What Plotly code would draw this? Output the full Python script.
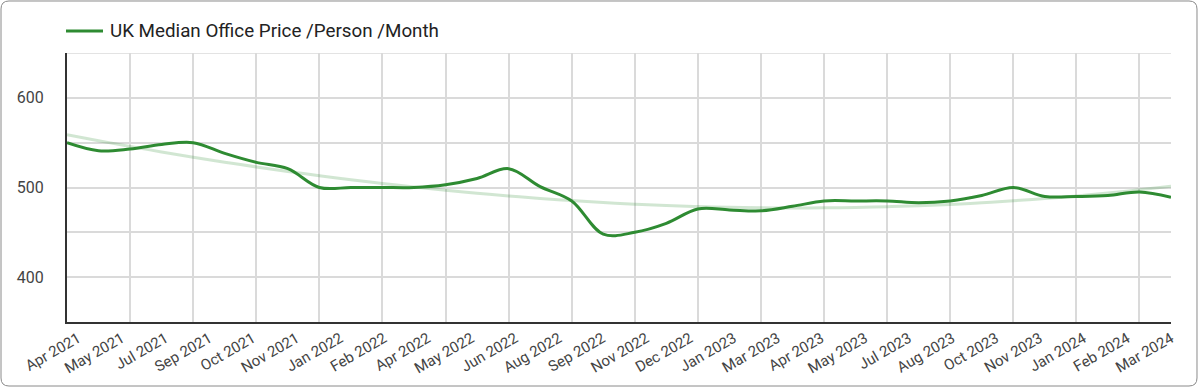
import numpy as np
import plotly.graph_objects as go

# ---- data ----
series_name = "UK Median Office Price /Person /Month"
month_index = list(range(36))  # Apr 2021 .. Mar 2024, monthly
price = [550, 541, 543, 548, 550, 538, 528, 521, 500, 500, 500, 500,
         503, 510, 521, 501, 485, 448, 450, 460, 476, 475, 474, 479,
         485, 485, 485, 483, 485, 491, 500, 490, 490, 491, 495, 489]
tick_labels = ["Apr 2021", "May 2021", "Jul 2021", "Sep 2021", "Oct 2021", "Nov 2021",
               "Jan 2022", "Feb 2022", "Apr 2022", "May 2022", "Jun 2022", "Aug 2022",
               "Sep 2022", "Nov 2022", "Dec 2022", "Jan 2023", "Mar 2023", "Apr 2023",
               "May 2023", "Jul 2023", "Aug 2023", "Oct 2023", "Nov 2023", "Jan 2024",
               "Feb 2024", "Mar 2024"]
y_labels = [400, 500, 600]
y_range = [350, 650]

# ---- layout constants (pixels) ----
W, H = 1199, 388
L, R, T, B = 67, 28, 53, 66
pw, ph = W - L - R, H - T - B
GRID = "#dadada"

x = np.array(month_index, dtype=float)
y = np.array(price, dtype=float)
coef = np.polyfit(x, y, 3)
trend = np.polyval(coef, x)

tickvals = list(np.linspace(0.35, 35, len(tick_labels)))

fig = go.Figure()
fig.add_trace(go.Scatter(x=x, y=trend, mode="lines", name="trend",
                         line=dict(color="rgba(46,139,50,0.22)", width=3, shape="spline"),
                         hoverinfo="skip", showlegend=False))
fig.add_trace(go.Scatter(x=x, y=y, mode="lines", name=series_name,
                         line=dict(color="#2e8b32", width=3, shape="spline", smoothing=1.0),
                         showlegend=False))

def px2paper(px, py):
    return (px - L) / pw, (H - B - py) / ph

# rounded border
x0, y0 = 1, 1
x1, y1 = 1197, 386
r = 8
def P(px, py):
    a, b = px2paper(px, py)
    return f"{a:.5f},{b:.5f}"
path = (f"M {P(x0 + r, y0)} L {P(x1 - r, y0)} Q {P(x1, y0)} {P(x1, y0 + r)} "
        f"L {P(x1, y1 - r)} Q {P(x1, y1)} {P(x1 - r, y1)} "
        f"L {P(x0 + r, y1)} Q {P(x0, y1)} {P(x0, y1 - r)} "
        f"L {P(x0, y0 + r)} Q {P(x0, y0)} {P(x0 + r, y0)} Z")
fig.add_shape(type="path", xref="paper", yref="paper", path=path,
              line=dict(color="#8a8a8a", width=1), layer="below")

# top gridline
fig.add_shape(type="line", xref="paper", yref="y", x0=0, x1=1, y0=y_range[1], y1=y_range[1],
              line=dict(color=GRID, width=1.5), layer="below")

# legend (manual)
lx0, ly = px2paper(66, 31)
lx1, _ = px2paper(103, 31)
fig.add_shape(type="line", xref="paper", yref="paper", x0=lx0, x1=lx1, y0=ly, y1=ly,
              line=dict(color="#2e8b32", width=3))
tx, _ = px2paper(108, 31)
fig.add_annotation(xref="paper", yref="paper", x=tx, y=ly, text=series_name,
                   showarrow=False, xanchor="left", yanchor="middle",
                   font=dict(family="Roboto", size=18.8, color="#222"))

fig.update_layout(
    width=W, height=H,
    margin=dict(l=L, r=R, t=T, b=B),
    paper_bgcolor="white", plot_bgcolor="white",
    font=dict(family="Roboto", size=15, color="#444"),
    showlegend=False,
)
fig.update_xaxes(range=[0, 35], tickmode="array", tickvals=tickvals, ticktext=tick_labels,
                 tickangle=-30, showgrid=False, ticks="", showline=True, linecolor="#333",
                 linewidth=2, zeroline=False, tickfont=dict(size=15, color="#444"),
                 minor=dict(tickmode="array", tickvals=list(range(0, 36, 2)), showgrid=True,
                            gridcolor=GRID, gridwidth=1.5, ticks=""))
fig.update_yaxes(range=y_range, tickmode="array", tickvals=y_labels, showgrid=True,
                 gridcolor=GRID, gridwidth=1.5, showline=True, linecolor="#333",
                 linewidth=2, zeroline=False, ticks="", ticklabelstandoff=18,
                 tickfont=dict(size=16, color="#444"),
                 minor=dict(tickmode="array", tickvals=[450, 550], showgrid=True,
                            gridcolor=GRID, gridwidth=1.5, ticks=""))

fig.write_html("out.html", config={"displayModeBar": False},
               post_script="document.body.style.margin='0';document.body.style.overflow='hidden';")
